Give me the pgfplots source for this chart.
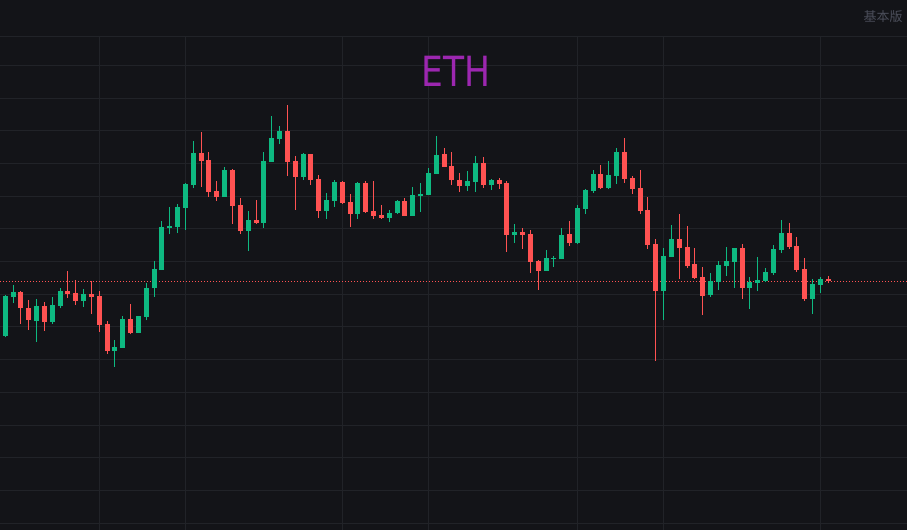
\documentclass[border=0pt]{standalone}
\usepackage{fontspec}
\usepackage{pgfplots}
\pgfplotsset{compat=1.18}
\usepackage{pgfplotstable}
\newfontfamily\titlefont[FakeStretch=0.83]{DejaVu Sans}
\newfontfamily\cjk{Noto Sans CJK SC}
\definecolor{bg}{RGB}{19,20,24}
\definecolor{gridc}{RGB}{33,35,40}
\definecolor{upc}{RGB}{14,185,129}
\definecolor{dnc}{RGB}{255,82,82}
\definecolor{ttl}{RGB}{156,39,176}
\definecolor{hdr}{RGB}{75,78,90}

\pgfplotstableread{
i o h l c
0 1006 1127 1002 1124
1 1122 1157 1103 1136
4 1050 1115 988 1095
6 1048 1120 1042 1098
7 1096 1148 1088 1139
10 1110 1145 1093 1130
14 963 995 915 973
15 971 1065 971 1056
17 1015 1065 1015 1065
18 1063 1164 1052 1148
19 1147 1228 1122 1204
20 1201 1346 1201 1328
21 1326 1388 1307 1331
22 1329 1396 1310 1388
23 1386 1459 1321 1456
24 1454 1583 1443 1547
28 1418 1507 1418 1497
31 1318 1376 1258 1349
33 1341 1550 1326 1524
34 1522 1657 1522 1592
35 1588 1627 1575 1612
38 1477 1547 1468 1544
41 1377 1429 1353 1408
42 1406 1467 1389 1462
45 1368 1462 1353 1459
49 1356 1379 1342 1370
50 1370 1408 1367 1405
52 1362 1448 1362 1423
53 1420 1459 1373 1427
54 1423 1503 1423 1488
55 1486 1598 1486 1541
59 1450 1494 1436 1465
60 1462 1538 1433 1518
62 1453 1471 1439 1467
65 1306 1338 1281 1314
69 1199 1260 1199 1237
70 1235 1244 1211 1238
71 1235 1325 1235 1305
73 1281 1394 1277 1385
74 1383 1441 1368 1438
75 1435 1497 1429 1485
77 1444 1524 1440 1482
78 1480 1562 1457 1550
84 1139 1266 1053 1243
85 1241 1334 1241 1293
90 1127 1192 1122 1169
91 1167 1229 1143 1216
92 1213 1269 1183 1228
93 1225 1266 1149 1266
95 1149 1179 1087 1166
96 1164 1240 1139 1172
97 1169 1207 1166 1195
98 1192 1275 1186 1263
99 1260 1349 1251 1311
103 1115 1174 1072 1160
104 1157 1180 1134 1175
}\upT

\pgfplotstableread{
i o h l c
2 1136 1140 1042 1090
3 1089 1112 1025 1054
5 1095 1107 1022 1048
8 1139 1198 1118 1131
9 1133 1172 1098 1110
11 1130 1170 1072 1122
12 1124 1140 1018 1038
13 1041 1049 954 963
16 1056 1102 1011 1015
25 1547 1609 1448 1525
26 1527 1551 1418 1433
27 1435 1465 1406 1418
29 1497 1500 1338 1392
30 1394 1414 1309 1318
32 1349 1408 1338 1341
36 1612 1689 1480 1522
37 1524 1538 1380 1477
39 1544 1544 1454 1468
40 1470 1481 1356 1377
43 1462 1465 1396 1400
44 1402 1426 1329 1368
46 1459 1465 1370 1373
47 1376 1465 1353 1362
48 1365 1394 1353 1356
51 1405 1414 1362 1362
56 1544 1563 1506 1506
57 1509 1551 1454 1467
58 1467 1488 1433 1450
61 1518 1536 1445 1453
63 1467 1473 1442 1457
64 1459 1465 1255 1306
66 1314 1324 1264 1306
67 1308 1320 1192 1225
68 1228 1231 1143 1199
72 1308 1346 1273 1281
76 1485 1512 1440 1444
79 1550 1592 1459 1471
80 1473 1479 1426 1441
81 1444 1497 1368 1377
82 1379 1417 1264 1276
83 1278 1294 933 1139
86 1293 1367 1175 1266
87 1269 1331 1207 1212
88 1219 1265 1175 1178
89 1180 1210 1068 1125
94 1266 1278 1116 1149
100 1311 1340 1263 1269
101 1272 1299 1196 1201
102 1204 1237 1110 1115
105 1175 1183 1162 1168
}\dnT

\begin{document}
\begin{tikzpicture}
\fill[bg] (0,0) rectangle (453.5pt,265pt);
\useasboundingbox (0,0) rectangle (453.5pt,265pt);
\begin{axis}[
  at={(0,0)}, anchor=south west,
  scale only axis, width=453.5pt, height=246.75pt,
  xmin=-0.663, xmax=115.05, ymin=432, ymax=1892,
  axis line style={draw=none},
  xtick={12,23,43,54,73,84,104},
  ytick={452,549,645,742,839,936,1033,1129,1226,1323,1420,1517,1613,1710,1807,1892},
  xticklabels={}, yticklabels={},
  major tick length=0pt,
  grid=major,
  grid style={draw=gridc, line width=0.5pt},
]
\addplot[dnc, line width=0.5pt, dash pattern=on 0.5pt off 1pt, forget plot] coordinates {(-1,1168) (116,1168)};
% wicks
\addplot[draw=none, mark=none, forget plot,
  error bars/.cd, y dir=plus, y explicit, error mark=none,
  error bar style={draw=upc, solid, line width=0.5pt}]
  table[x=i, y=l, y error expr=\thisrow{h}-\thisrow{l}] {\upT};
\addplot[draw=none, mark=none, forget plot,
  error bars/.cd, y dir=plus, y explicit, error mark=none,
  error bar style={draw=dnc, solid, line width=0.5pt}]
  table[x=i, y=l, y error expr=\thisrow{h}-\thisrow{l}] {\dnT};
% bodies
\addplot[draw=none, mark=none, forget plot,
  error bars/.cd, y dir=plus, y explicit, error mark=none,
  error bar style={draw=upc, solid, line width=2.5pt}]
  table[x=i, y=o, y error expr=\thisrow{c}-\thisrow{o}] {\upT};
\addplot[draw=none, mark=none, forget plot,
  error bars/.cd, y dir=plus, y explicit, error mark=none,
  error bar style={draw=dnc, solid, line width=2.5pt}]
  table[x=i, y=c, y error expr=\thisrow{o}-\thisrow{c}] {\dnT};
\node[inner sep=0pt, text=ttl, font=\titlefont\fontsize{20.8}{22}\selectfont] at (axis cs:57.5,1789) {ETH};
\end{axis}
\node[inner sep=0pt, anchor=east, text=hdr, font=\cjk\fontsize{6.5}{7}\selectfont] at (451.5pt,256.5pt) {基本版};
\end{tikzpicture}
\end{document}
